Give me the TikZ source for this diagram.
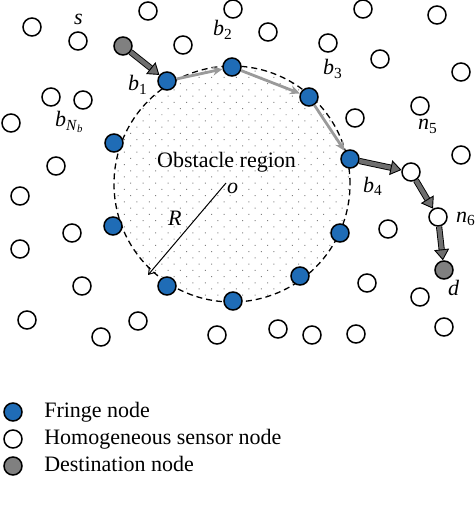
\documentclass[tikz,border=0pt]{standalone}
\usepackage{fontspec}
\setmainfont{Liberation Serif}
\definecolor{fringeblue}{HTML}{1F6CB6}
\definecolor{destgray}{HTML}{808080}
\definecolor{hopgray}{HTML}{6E6E6E}
\definecolor{arcgray}{HTML}{9A9A9A}
\usetikzlibrary{arrows.meta,positioning,calc,patterns.meta}
\newcommand{\labfont}{\fontsize{22}{25}\selectfont}

\begin{document}
\begin{tikzpicture}[
  x=1pt, y=-1pt,
  sensor/.style={circle, draw=black, line width=1.5pt, fill=#1,
    minimum size=18pt, inner sep=0pt},
  sensor/.default=white,
  lbl/.style={font=\labfont, inner sep=0pt, anchor=base west},
  key/.style={font=\labfont, text height=15pt, text depth=5pt, right=18pt of #1},
  hop/.style={draw=black, line width=0.9pt, double=hopgray, double distance=4.4pt,
    -{Triangle[length=11pt, width=15pt, fill=hopgray, line width=0.9pt]}},
  arc/.style={arcgray, line width=2.8pt, -{Stealth[length=10pt, width=9pt]}},
  rad/.style={line width=1pt, -{Straight Barb[length=6pt, width=8pt]}}
]
  \useasboundingbox (0,0) rectangle (474,513);

  % Obstacle region
  \coordinate (ctr) at (232,184);
  \fill[pattern={Dots[distance=8.8pt, angle=45, radius=0.7pt]},
    pattern color=black!50] (ctr) circle[radius=118pt];
  \draw[dash pattern=on 6pt off 4pt, line width=1.3pt] (ctr) circle[radius=118pt];

  % Homogeneous sensor nodes
  \foreach \px/\py [count=\i] in {32/27, 78/41, 148/11, 183/45, 233/9, 268/32,
      328/43, 363/9, 380/59, 437/15, 461/72, 355/118, 461/155, 51/97, 83/100,
      11/123, 56/166, 20/196, 72/233, 20/249, 82/286, 27/320, 138/321, 101/337,
      217/335, 388/229, 367/283, 420/297, 444/327, 278/329, 312/335, 356/334}
    \node[sensor] (h\i) at (\px,\py) {};
  \node[sensor] (n5) at (420,106) {};
  \node[sensor] (nx) at (411,172) {};
  \node[sensor] (n6) at (438,217) {};

  % Fringe nodes
  \foreach \px/\py/\nm in {167/81/b1, 232/67/b2, 309/97/b3, 350/159/b4,
      340/233/f5, 300/276/f6, 233/301/f7, 167/286/f8, 113/226/f9, 114/143/bNb}
    \node[sensor=fringeblue] (\nm) at (\px,\py) {};

  % Source and destination
  \node[sensor=destgray] (s) at (123,46) {};
  \node[sensor=destgray] (d) at (444,270) {};

  % Route
  \draw[hop] (s) -- (b1);
  \draw[arc] (b1) -- (b2);
  \draw[arc] (b2) -- (b3);
  \draw[arc] (b3) -- (b4);
  \draw[hop] (b4) -- (nx);
  \draw[hop] (nx) -- (n6);
  \draw[hop] (n6) -- (d);

  % Radius
  \coordinate (rim) at (148,275);
  \draw[rad] (226,183) coordinate (o) -- (rim);

  % Labels
  \node[lbl] (lobst) at (157,167) {Obstacle region};
  \node[lbl] (lo) at (227,193) {\textit{o}};
  \node[lbl] (lR) at (168,225) {\textit{R}};
  \node[lbl] (ls) at (74,25) {\textit{s}};
  \node[lbl] (lb1) at (128,91) {\textit{b}\textsubscript{1}};
  \node[lbl] (lb2) at (213,36) {\textit{b}\textsubscript{2}};
  \node[lbl] (lb3) at (323,75) {\textit{b}\textsubscript{3}};
  \node[lbl] (lb4) at (363,192) {\textit{b}\textsubscript{4}};
  \node[lbl] (lbN) at (55,127) {\textit{b}\textsubscript{\textit{N}\textsubscript{\textit{b}}}};
  \node[lbl] (ln5) at (418,130) {\textit{n}\textsubscript{5}};
  \node[lbl] (ln6) at (456,222) {\textit{n}\textsubscript{6}};
  \node[lbl] (ld) at (448,295) {\textit{d}};

  % Legend
  \node[sensor=fringeblue] (keyf) at (13,412) {};
  \node[sensor] (keyh) at (13,439) {};
  \node[sensor=destgray] (keyd) at (13,466) {};
  \node[key=keyf] {Fringe node};
  \node[key=keyh] {Homogeneous sensor node};
  \node[key=keyd] {Destination node};
\end{tikzpicture}
\end{document}
